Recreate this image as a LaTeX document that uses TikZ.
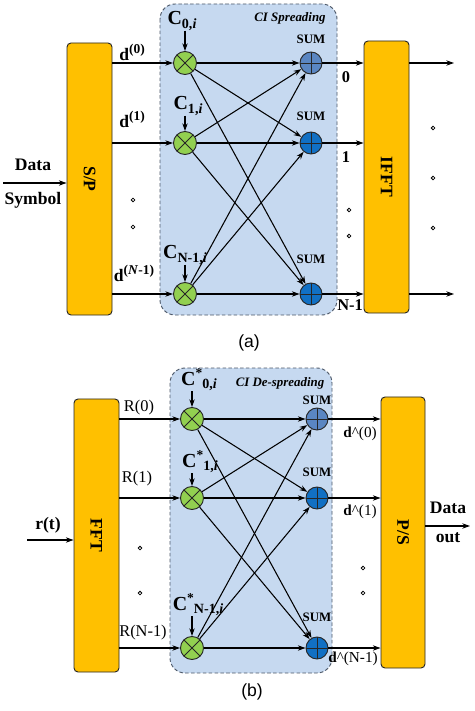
\documentclass[tikz,border=0pt]{standalone}
\usepackage{fontspec}
\setmainfont{Liberation Serif}
\newfontfamily\capfont{Liberation Sans}
\usetikzlibrary{arrows.meta,positioning,calc}
\definecolor{blockfill}{HTML}{FFC000}
\definecolor{spreadfill}{HTML}{C6D9F0}
\definecolor{spreadedge}{HTML}{4D5868}
\definecolor{mulfill}{HTML}{92D050}
\definecolor{sumfill}{HTML}{1170C4}
\definecolor{sumtop}{HTML}{5A86C2}
% raised / lowered indices of the labels
\newcommand{\hisup}[1]{\raisebox{0.85ex}{\fontsize{11.5}{12}\selectfont #1}}
\newcommand{\losub}[1]{\raisebox{-0.35ex}{\fontsize{12}{13}\selectfont #1}}

\tikzset{
  arr/.style={line width=0.9pt,-{Stealth[length=2.3mm,width=1.6mm]}},
  spreadbg/.style={fill=spreadfill,draw=spreadedge,line width=0.8pt,dash pattern=on 3pt off 2pt,rounded corners=0.45cm},
  blockbox/.style={draw=black!85,fill=blockfill,line width=0.8pt,rounded corners=0.12cm,
    minimum width=1.35cm,minimum height=8.16cm,inner sep=0pt,font=\fontsize{15}{17}\selectfont\bfseries},
  mulnode/.style={circle,draw=black!85,fill=mulfill,line width=0.8pt,minimum size=0.69cm,inner sep=0pt,
    path picture={\draw[line width=0.8pt] (path picture bounding box.center) +(45:0.35cm) -- +(225:0.35cm) +(135:0.35cm) -- +(-45:0.35cm);}},
  sumnode/.style={circle,draw=black!85,fill=sumfill,line width=0.8pt,minimum size=0.66cm,inner sep=0pt,
    path picture={\draw[line width=0.8pt] (path picture bounding box.center) +(0:0.35cm) -- +(180:0.35cm) +(90:0.35cm) -- +(-90:0.35cm);}},
  clabel/.style={font=\fontsize{17}{19}\selectfont\bfseries,inner sep=0pt},
  dlabel/.style={font=\fontsize{15}{17}\selectfont\bfseries,inner sep=0pt},
  iolabel/.style={font=\fontsize{15}{17}\selectfont\bfseries,inner sep=0pt},
  numlabel/.style={font=\fontsize{14}{16}\selectfont\bfseries,inner sep=0pt},
  rlabel/.style={font=\fontsize{14}{16}\selectfont,inner sep=0pt},
  sumlabel/.style={font=\fontsize{11}{13}\selectfont\bfseries,inner sep=0pt},
  titlelabel/.style={font=\fontsize{11}{13}\selectfont\bfseries\itshape,inner sep=0pt},
  caplabel/.style={font=\fontsize{15}{17}\selectfont\capfont,inner sep=0pt},
  dotmark/.style={draw=black,line width=0.7pt}
}

\begin{document}
\begin{tikzpicture}[x=0.03cm,y=-0.03cm]
  \useasboundingbox (0,0) rectangle (474,711);

  % ---------- (a) transmitter ----------
  \draw[spreadbg] (160,4) rectangle (337,315);
  \node[titlelabel] (atitle) at (290,18) {CI Spreading};
  \node[blockbox] (sp) at (89.5,179) {\rotatebox{-90}{S/P}};
  \node[blockbox] (ifft) at (386.5,177) {\rotatebox{-90}{IFFT}};
  % multipliers and summers
  \node[mulnode] (a0) at (185,63) {};
  \node[mulnode] (a1) at (185,143) {};
  \node[mulnode] (a2) at (185,294) {};
  \node[sumnode,fill=sumtop] (b0) at (311,63) {};
  \node[sumnode] (b1) at (311,143) {};
  \node[sumnode] (b2) at (311,294) {};
  \node[sumlabel] (bs0) at (311,39) {SUM};
  \node[sumlabel] (bs1) at (311,116) {SUM};
  \node[sumlabel] (bs2) at (311,259) {SUM};
  % codes
  \node[clabel] (c0) at (182,21) {C\losub{0,\textit{i}}};
  \node[clabel] (c1) at (188,106) {C\losub{1,\textit{i}}};
  \node[clabel] (c2) at (185,255) {C\losub{N-1,\textit{i}}};
  \foreach \k in {0,1,2} \draw[arr] (c\k.south -| a\k) -- (a\k.north);
  % input
  \coordinate (ain) at (3,183);
  \draw[arr] (ain) -- (ain -| sp.west);
  \node[iolabel] (adata) at (33,165) {Data};
  \node[iolabel] (asym) at (33,200) {Symbol};
  % data branches
  \node[dlabel] (d0) at (132,52) {d\hisup{(0)}};
  \node[dlabel] (d1) at (132,119) {d\hisup{(1)}};
  \node[dlabel] (d2) at (134,273) {d\hisup{(\textit{N}-1)}};
  \foreach \k in {0,1,2} \draw[arr] (sp.east |- a\k) -- (a\k.west);
  \foreach \k in {0,1,2} \foreach \l in {0,1,2} \draw[arr] (a\k) -- (b\l);
  \foreach \k in {0,1,2} \draw[arr] (b\k.east) -- (b\k.east -| ifft.west);
  \node[numlabel] (n0) at (346,77) {0};
  \node[numlabel] (n1) at (346,157) {1};
  \node[numlabel] (n2) at (350,305) {N-1};
  % outputs
  \coordinate (aout0) at (454,63);
  \coordinate (aout2) at (454,294);
  \draw[arr] (ifft.east |- aout0) -- (aout0);
  \draw[arr] (ifft.east |- aout2) -- (aout2);
  \foreach \x/\y in {133/200,133/227,349/210,349/236,433/128,433/178,433/228}
    \draw[dotmark] (\x,\y) circle (0.055cm);
  \node[caplabel] (capa) at (249,343) {(a)};

  % ---------- (b) receiver ----------
  \draw[spreadbg] (170,368) rectangle (332,673);
  \node[titlelabel] (btitle) at (280,383) {CI De-spreading};
  \node[blockbox,minimum height=8.19cm] (fft) at (96.5,535.5) {\rotatebox{-90}{FFT}};
  \node[blockbox,minimum width=1.32cm,minimum height=8.13cm] (ps) at (403,532.5) {\rotatebox{-90}{P/S}};
  % multipliers and summers
  \node[mulnode] (e0) at (192,419) {};
  \node[mulnode] (e1) at (192,498) {};
  \node[mulnode] (e2) at (192,648) {};
  \node[sumnode,fill=sumtop] (f0) at (317,419) {};
  \node[sumnode] (f1) at (317,498) {};
  \node[sumnode] (f2) at (317,648) {};
  \node[sumlabel] (fs0) at (317,400) {SUM};
  \node[sumlabel] (fs1) at (317,472) {SUM};
  \node[sumlabel] (fs2) at (317,617) {SUM};
  % conjugate codes
  \node[clabel] (g0) at (199,380) {C\hisup{*}\losub{0,\textit{i}}};
  \node[clabel] (g1) at (200,462) {C\hisup{*}\losub{1,\textit{i}}};
  \node[clabel] (g2) at (198,605) {C\hisup{*}\losub{N-1,\textit{i}}};
  \foreach \k in {0,1,2} \draw[arr] (g\k.south -| e\k) -- (e\k.north);
  % input
  \coordinate (bin) at (27,540);
  \draw[arr] (bin) -- (bin -| fft.west);
  \node[iolabel] (rt) at (48,525) {r(t)};
  % received branches
  \node[rlabel] (r0) at (139,408) {R(0)};
  \node[rlabel] (r1) at (137,479) {R(1)};
  \node[rlabel] (r2) at (143,633) {R(N-1)};
  \foreach \k in {0,1,2} \draw[arr] (fft.east |- e\k) -- (e\k.west);
  \foreach \k in {0,1,2} \foreach \l in {0,1,2} \draw[arr] (e\k) -- (f\l);
  \foreach \k in {0,1,2} \draw[arr] (f\k.east) -- (f\k.east -| ps.west);
  \node[rlabel,font=\fontsize{13}{15}\selectfont] (h0) at (360,434) {\textbf{d}\^{}(0)};
  \node[rlabel,font=\fontsize{13}{15}\selectfont] (h1) at (360,512) {\textbf{d}\^{}(1)};
  \node[rlabel,font=\fontsize{13}{15}\selectfont] (h2) at (353,659) {\textbf{d}\^{}(N-1)};
  % output
  \coordinate (bout) at (470,526);
  \draw[arr] (ps.east |- bout) -- (bout);
  \node[iolabel] (bdata) at (448,508) {Data};
  \node[iolabel] (bo) at (448,538) {out};
  \foreach \x/\y in {140/548,140/593,363/568,363/593}
    \draw[dotmark] (\x,\y) circle (0.055cm);
  \node[caplabel] (capb) at (252,692) {(b)};
\end{tikzpicture}
\end{document}
